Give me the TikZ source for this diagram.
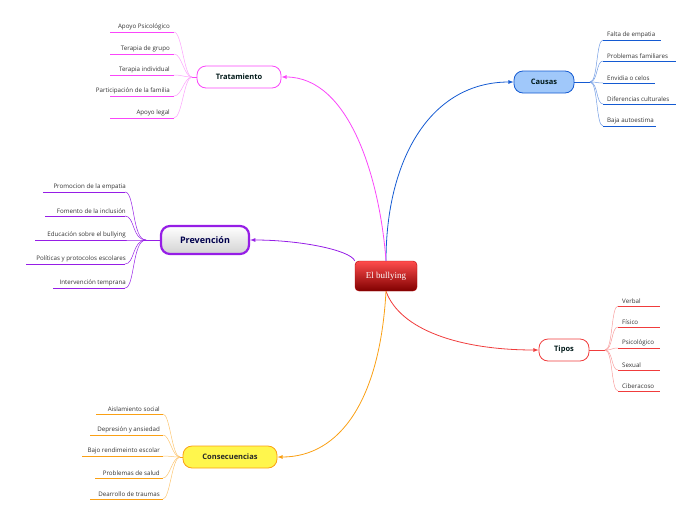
\documentclass[tikz,border=0pt]{standalone}
\usepackage{fontspec}
\setmainfont{Open Sans}
\newfontfamily\serifx{Liberation Serif}
\begin{document}
\begin{tikzpicture}[x=1pt,y=-1pt,
 leaf/.style={font=\fontsize{6.2}{7}\selectfont, inner sep=1pt, text=black!80},
 topic/.style={rounded corners=9pt, font=\bfseries\fontsize{7.5}{9}\selectfont, text=black!80!teal, minimum height=22pt},
 conn/.style={line width=0.8pt},
 twig/.style={line width=0.5pt}]
\useasboundingbox (0,0) rectangle (696,520);
\node[rounded corners=4pt, draw=red!70!black, top color=red!70, bottom color=red!50!black, minimum width=62pt, minimum height=30pt, text=white, font=\serifx\fontsize{9}{10}\selectfont] (c) at (386,276) {El bullying};
% Causas
\definecolor{cb}{RGB}{20,90,210}
\definecolor{cbf}{RGB}{160,200,250}
\node[topic, draw=cb, fill=cbf, minimum width=60pt, line width=0.8pt] (ca) at (544,82) {Causas};
\draw[conn,cb,-latex] (c.north) .. controls (386,160) and (430,82) .. (ca.west);
\coordinate (cf) at (590,82);
\draw[conn,cb] (ca.east) -- (cf);
\foreach \t/\y/\w in {Falta de empatia/40/58, Problemas familiares/61/73, Envidia o celos/83/52, Diferencias culturales/104/73, Baja autoestima/126/53}{
 \node[leaf,anchor=south west] at (606,\y-1) {\t};
 \draw[twig,cb!60] (cf) .. controls (598,82) and (596,\y) .. (603,\y);
 \draw[line width=1pt,cb] (603,\y) -- ++(\w,0);
}
% Tipos
\definecolor{rd}{RGB}{240,60,60}
\node[topic, draw=rd, fill=white, minimum width=50pt, line width=0.8pt] (ti) at (564,350) {Tipos};
\draw[conn,rd,-latex] (c.south) .. controls (400,330) and (460,350) .. (ti.west);
\coordinate (tf) at (605,350);
\draw[conn,rd] (ti.east) -- (tf);
\foreach \t/\y in {Verbal/306, Físico/327, Psicológico/348, Sexual/370, Ciberacoso/391}{
 \node[leaf,anchor=south west] at (621,\y-1) {\t};
 \draw[twig,rd!50] (tf) .. controls (613,350) and (611,\y) .. (618,\y);
 \draw[line width=1pt,rd] (618,\y) -- ++(42,0);
}
% Tratamiento
\definecolor{mg}{RGB}{250,70,250}
\node[topic, draw=mg, fill=white, minimum width=84pt, line width=0.8pt] (tr) at (239,77) {Tratamiento};
\draw[conn,mg,-latex] (c.north) .. controls (380,180) and (350,77) .. (tr.east);
\coordinate (rf) at (192,77);
\draw[conn,mg] (tr.west) -- (rf);
\foreach \t/\y in {Apoyo Psicológico/32, Terapia de grupo/54, Terapia individual/75, Participación de la familia/96, Apoyo legal/118}{
 \node[leaf,anchor=south east] at (171,\y-1) {\t};
 \draw[twig,mg!50] (rf) .. controls (184,77) and (182,\y) .. (174,\y);
 \draw[line width=1pt,mg] (174,\y) -- (110,\y);
}
% Prevencion
\definecolor{pp}{RGB}{150,30,230}
\node[rounded corners=9pt, draw=pp, line width=2.2pt, top color=white, bottom color=gray!35, minimum width=88pt, minimum height=28pt, font=\bfseries\fontsize{9}{11}\selectfont, text=blue!30!black] (pr) at (205,240) {Prevención};
\draw[conn,pp,-latex] (c.north west) .. controls (350,250) and (300,240) .. (pr.east);
\coordinate (pf) at (146,240);
\draw[conn,pp] (pr.west) -- (pf);
\foreach \t/\y/\x in {Promocion de la empatia/192/43, Fomento de la inclusión/216/45, Educación sobre el bullying/240/35, Políticas y protocolos escolares/264/26, Intervención temprana/288/53}{
 \node[leaf,anchor=south east] at (127,\y-1) {\t};
 \draw[twig,pp] (pf) .. controls (132,240) and (135,\y) .. (125,\y);
 \draw[line width=1pt,pp] (125,\y) -- (\x,\y);
}
% Consecuencias
\definecolor{og}{RGB}{250,160,20}
\node[topic, draw=og, fill=yellow!70, minimum width=94pt, line width=0.8pt, text=black!85] (co) at (230,457) {Consecuencias};
\draw[conn,og,-latex] (c.south) .. controls (380,400) and (340,457) .. (co.east);
\coordinate (of) at (180,457);
\draw[conn,og] (co.west) -- (of);
\foreach \t/\y/\x in {Aislamiento social/414/96, Depresión y ansiedad/435/90, Bajo rendimeinto escolar/456/82, Problemas de salud/478/95, Dearrollo de traumas/499/90}{
 \node[leaf,anchor=south east] at (161,\y-1) {\t};
 \draw[twig,og!60] (of) .. controls (172,457) and (170,\y) .. (163,\y);
 \draw[line width=1pt,og] (163,\y) -- (\x,\y);
}
\end{tikzpicture}
\end{document}
